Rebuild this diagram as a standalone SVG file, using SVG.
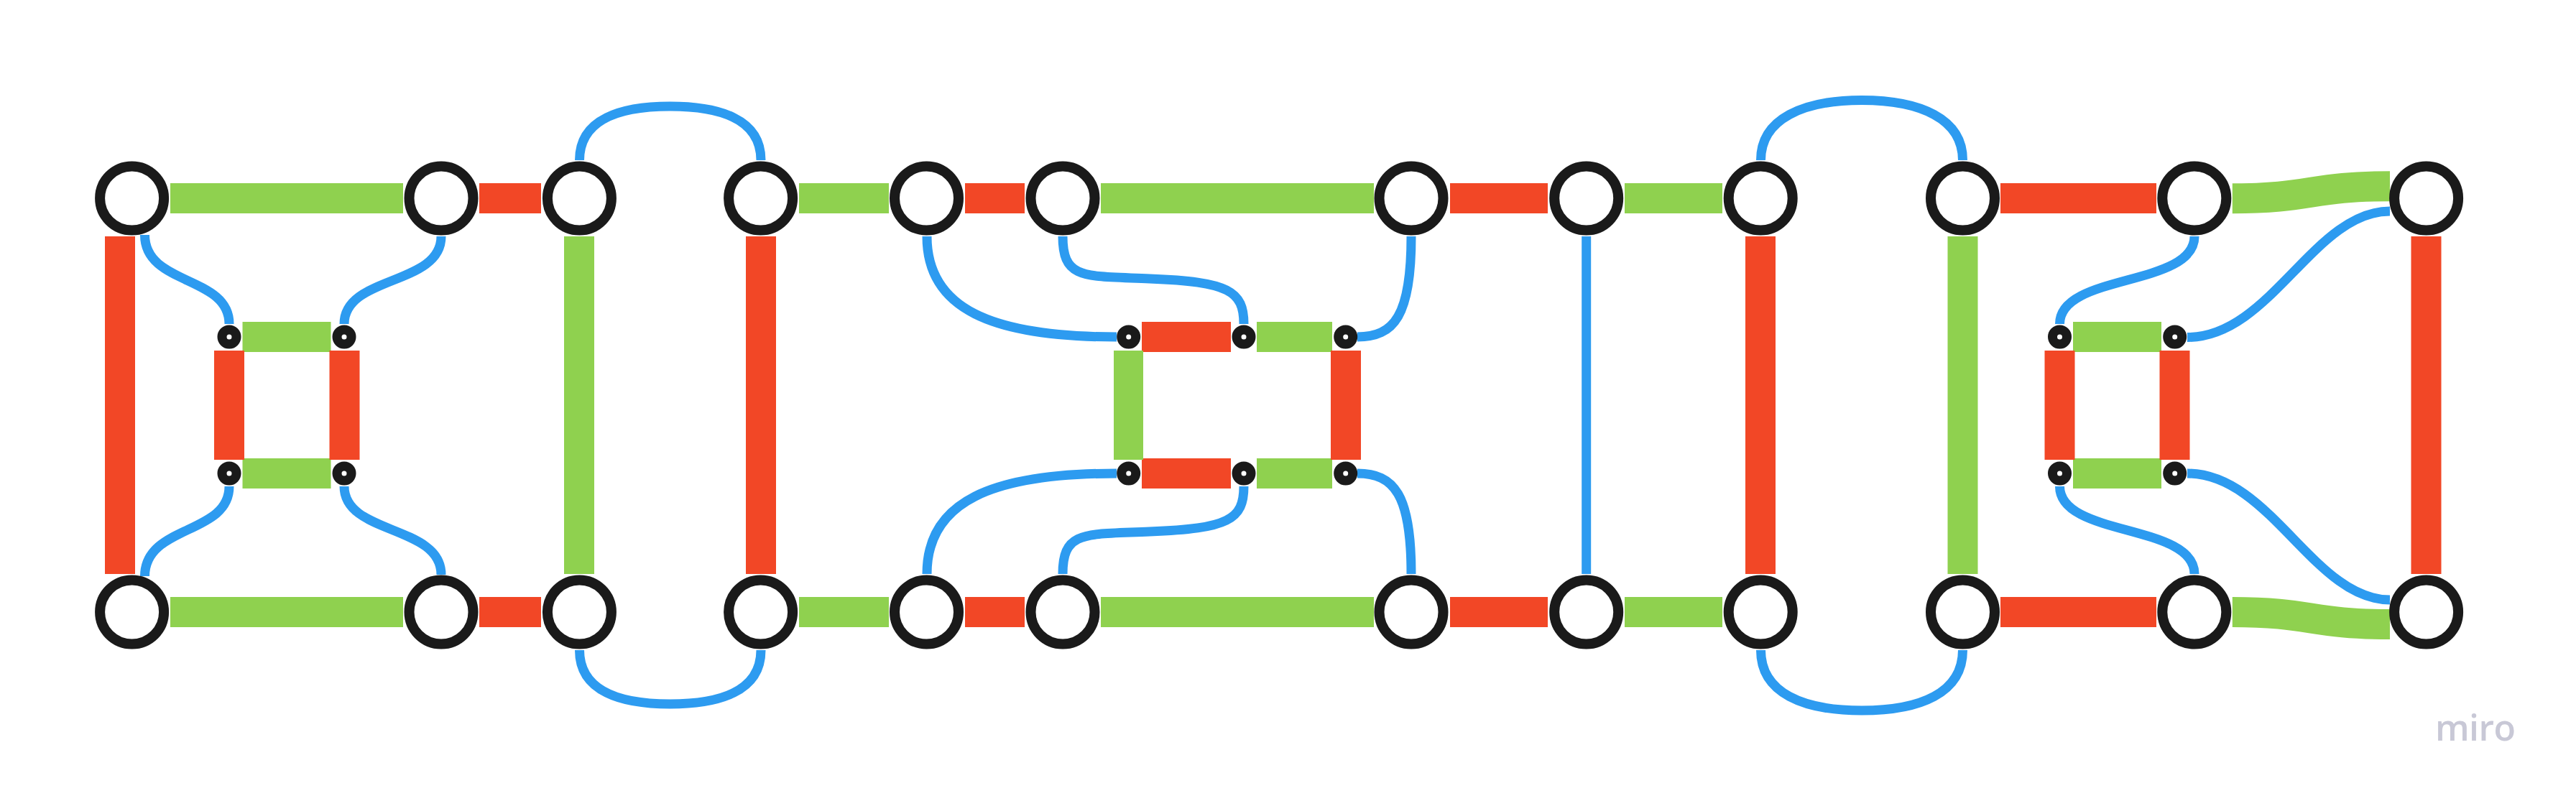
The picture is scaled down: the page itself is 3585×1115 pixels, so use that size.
<svg xmlns="http://www.w3.org/2000/svg" width="3585" height="1115" viewBox="0 0 3585 1115">
<style>
.g{fill:#8fd14f}
.r{fill:#f24726}
.gw{fill:none;stroke:#8fd14f;stroke-width:42;stroke-linecap:butt}
.b{fill:none;stroke:#2d9bf0;stroke-width:13;stroke-linecap:butt}
.n{fill:#ffffff;stroke:#1a1a1a;stroke-width:14}
.s{fill:#ffffff;stroke:#1a1a1a;stroke-width:13}
.logo{font-family:"Open Sans","Liberation Sans",sans-serif;font-weight:600;font-size:50px;fill:#c8c8d6}
</style>
<rect width="3585" height="1115" fill="#ffffff"/>
<g id="connectors">
<!-- top row bars -->
<rect class="g" x="237" y="255" width="324" height="42"/>
<rect class="r" x="667" y="255" width="86" height="42"/>
<rect class="g" x="1112" y="255" width="125" height="42"/>
<rect class="r" x="1343" y="255" width="83" height="42"/>
<rect class="g" x="1532" y="255" width="380" height="42"/>
<rect class="r" x="2018" y="255" width="136" height="42"/>
<rect class="g" x="2261" y="255" width="136" height="42"/>
<rect class="r" x="2784" y="255" width="217" height="42"/>
<path class="gw" d="M3106.8 276.3 C3216 276.3 3216 259.3 3326 259.3"/>
<!-- bottom row bars -->
<rect class="g" x="237" y="831" width="324" height="42"/>
<rect class="r" x="667" y="831" width="86" height="42"/>
<rect class="g" x="1112" y="831" width="125" height="42"/>
<rect class="r" x="1343" y="831" width="83" height="42"/>
<rect class="g" x="1532" y="831" width="380" height="42"/>
<rect class="r" x="2018" y="831" width="136" height="42"/>
<rect class="g" x="2261" y="831" width="136" height="42"/>
<rect class="r" x="2784" y="831" width="217" height="42"/>
<path class="gw" d="M3106.8 852 C3216 852 3216 869 3326 869"/>
<!-- vertical bars -->
<rect class="r" x="146" y="329" width="42" height="470"/>
<rect class="g" x="785" y="329" width="42" height="470"/>
<rect class="r" x="1038" y="329" width="42" height="470"/>
<rect class="r" x="2429" y="329" width="42" height="470"/>
<rect class="g" x="2710.5" y="329" width="42" height="470"/>
<rect class="r" x="3355.5" y="329" width="42" height="470"/>
<!-- left small square -->
<rect class="g" x="337.5" y="448" width="123" height="42"/>
<rect class="g" x="337.5" y="638" width="123" height="42"/>
<rect class="r" x="298" y="488" width="42" height="152"/>
<rect class="r" x="458.5" y="488" width="42" height="152"/>
<!-- middle small block -->
<rect class="r" x="1589" y="448" width="124" height="42"/>
<rect class="g" x="1749" y="448" width="105" height="42"/>
<rect class="r" x="1589" y="638" width="124" height="42"/>
<rect class="g" x="1749" y="638" width="105" height="42"/>
<rect class="g" x="1550" y="488" width="41" height="152"/>
<rect class="r" x="1852" y="488" width="42" height="152"/>
<!-- right small square -->
<rect class="g" x="2885" y="448" width="123" height="42"/>
<rect class="g" x="2885" y="638" width="123" height="42"/>
<rect class="r" x="2845.5" y="488" width="42" height="152"/>
<rect class="r" x="3005.5" y="488" width="42" height="152"/>
<!-- blue links -->
<path class="b" d="M201.5 327 C201.5 398 319 383 319 451"/>
<path class="b" d="M614 329 C614 398 479 383 479 451"/>
<path class="b" d="M319 677 C319 745 201.5 730 201.5 802"/>
<path class="b" d="M479 677 C479 745 614 730 614 800"/>
<path class="b" d="M806.5 223 C806.5 165 865 148 932.5 148 C1000 148 1059 165 1059 223"/>
<path class="b" d="M806.5 905 C806.5 963 865 980 932.5 980 C1000 980 1059 963 1059 905"/>
<path class="b" d="M1290 329 C1290 430 1380 469 1554 469"/>
<path class="b" d="M1479 329 C1479 390 1510 384 1600 388 C1710 392 1731 405 1731 451"/>
<path class="b" d="M1964 329 C1964 440 1940 469 1889 469"/>
<path class="b" d="M1554 659 C1380 659 1290 698 1290 799"/>
<path class="b" d="M1479 799 C1479 738 1510 744 1600 740 C1710 736 1731 723 1731 677"/>
<path class="b" d="M1889 659 C1940 659 1964 688 1964 799"/>
<path class="b" d="M2207.7 329 L2207.7 799"/>
<path class="b" d="M2450.5 223 C2450.5 165 2510 139.5 2591 139.5 C2672 139.5 2731.5 165 2731.5 223"/>
<path class="b" d="M2450.5 905 C2450.5 965 2510 989 2591 989 C2672 989 2731.5 965 2731.5 905"/>
<path class="b" d="M3054 329 C3054 400 2866.5 380 2866.5 451"/>
<path class="b" d="M3326 294 C3220 294 3160 469.5 3044 469.5"/>
<path class="b" d="M2866.5 677 C2866.5 748 3054 728 3054 799"/>
<path class="b" d="M3044 659 C3160 659 3220 835 3326 835"/>
</g>
<g id="n1"><circle class="n" cx="183.6" cy="276" r="44.5"/></g>
<g id="n2"><circle class="n" cx="614" cy="276" r="44.5"/></g>
<g id="n3"><circle class="n" cx="806.4" cy="276" r="44.5"/></g>
<g id="n4"><circle class="n" cx="1058.6" cy="276" r="44.5"/></g>
<g id="n5"><circle class="n" cx="1289.5" cy="276" r="44.5"/></g>
<g id="n6"><circle class="n" cx="1479" cy="276" r="44.5"/></g>
<g id="n7"><circle class="n" cx="1964" cy="276" r="44.5"/></g>
<g id="n8"><circle class="n" cx="2207.7" cy="276" r="44.5"/></g>
<g id="n9"><circle class="n" cx="2450.2" cy="276" r="44.5"/></g>
<g id="n10"><circle class="n" cx="2731.5" cy="276" r="44.5"/></g>
<g id="n11"><circle class="n" cx="3053.8" cy="276" r="44.5"/></g>
<g id="n12"><circle class="n" cx="3376.6" cy="276" r="44.5"/></g>
<g id="n13"><circle class="n" cx="183.6" cy="852" r="44.5"/></g>
<g id="n14"><circle class="n" cx="614" cy="852" r="44.5"/></g>
<g id="n15"><circle class="n" cx="806.4" cy="852" r="44.5"/></g>
<g id="n16"><circle class="n" cx="1058.6" cy="852" r="44.5"/></g>
<g id="n17"><circle class="n" cx="1289.5" cy="852" r="44.5"/></g>
<g id="n18"><circle class="n" cx="1479" cy="852" r="44.5"/></g>
<g id="n19"><circle class="n" cx="1964" cy="852" r="44.5"/></g>
<g id="n20"><circle class="n" cx="2207.7" cy="852" r="44.5"/></g>
<g id="n21"><circle class="n" cx="2450.2" cy="852" r="44.5"/></g>
<g id="n22"><circle class="n" cx="2731.5" cy="852" r="44.5"/></g>
<g id="n23"><circle class="n" cx="3053.8" cy="852" r="44.5"/></g>
<g id="n24"><circle class="n" cx="3376.6" cy="852" r="44.5"/></g>
<g id="s1"><circle class="s" cx="319" cy="469" r="10"/></g>
<g id="s2"><circle class="s" cx="479" cy="469" r="10"/></g>
<g id="s3"><circle class="s" cx="319" cy="659" r="10"/></g>
<g id="s4"><circle class="s" cx="479" cy="659" r="10"/></g>
<g id="s5"><circle class="s" cx="1570.7" cy="469" r="10"/></g>
<g id="s6"><circle class="s" cx="1731" cy="469" r="10"/></g>
<g id="s7"><circle class="s" cx="1872.7" cy="469" r="10"/></g>
<g id="s8"><circle class="s" cx="1570.7" cy="659" r="10"/></g>
<g id="s9"><circle class="s" cx="1731" cy="659" r="10"/></g>
<g id="s10"><circle class="s" cx="1872.7" cy="659" r="10"/></g>
<g id="s11"><circle class="s" cx="2866.5" cy="469" r="10"/></g>
<g id="s12"><circle class="s" cx="3026.7" cy="469" r="10"/></g>
<g id="s13"><circle class="s" cx="2866.5" cy="659" r="10"/></g>
<g id="s14"><circle class="s" cx="3026.7" cy="659" r="10"/></g>
<text class="logo" x="3389" y="1031" textLength="112" lengthAdjust="spacing">miro</text>
</svg>
